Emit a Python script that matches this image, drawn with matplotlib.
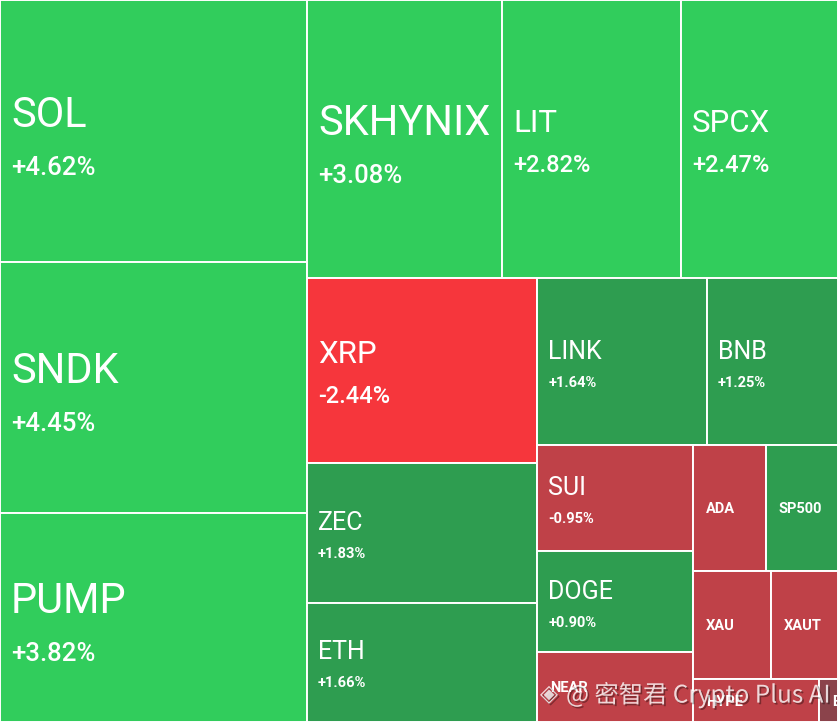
import matplotlib as mpl
mpl.use('Agg')
from matplotlib import pyplot as plt
from matplotlib.patches import Rectangle
import matplotlib.patheffects as pe

# 資料：名稱、漲跌幅、權重(面積)
names = ['SOL', 'SNDK', 'PUMP', 'SKHYNIX', 'LIT', 'SPCX', 'XRP', 'ZEC', 'ETH',
         'LINK', 'BNB', 'SUI', 'DOGE', 'NEAR', 'ADA', 'SP500', 'XAU', 'XAUT',
         'HYPE', 'BCH']
changes = [4.62, 4.45, 3.82, 3.08, 2.82, 2.47, -2.44, 1.83, 1.66,
           1.64, 1.25, -0.95, 0.90, -1.10, -1.00, 0.50, -0.80, -0.80,
           -0.90, -0.20]
weights = [80.4, 77.1, 64.2, 54.2, 49.8, 43.6, 42.6, 32.2, 27.4,
           28.4, 21.9, 16.5, 15.8, 10.9, 9.2, 9.1, 8.4, 7.2,
           5.4, 0.8]
# 每一條帶(strip)包含幾個方塊
strip_sizes = [3, 3, 3, 2, 3, 2, 2, 1, 1]

W, H = 838, 722


def tile_color(c):
    if c >= 2:
        return '#31CD5C'
    if c >= 0:
        return '#2E9D50'
    if c > -0.3:
        return '#8B434B'
    if c > -2:
        return '#BF4148'
    return '#F6363C'


# 依條帶計算方塊位置
rects = []
x0, y0, w, h = 0.0, 0.0, float(W), float(H)
remaining = sum(weights)
i = 0
for n in strip_sizes:
    group = weights[i:i + n]
    frac = sum(group) / remaining
    if w >= h:
        sw = w * frac
        yy = y0
        for g in group:
            gh = h * g / sum(group)
            rects.append((x0, yy, sw, gh))
            yy += gh
        x0 += sw
        w -= sw
    else:
        sh = h * frac
        xx = x0
        for g in group:
            gw = w * g / sum(group)
            rects.append((xx, y0, gw, sh))
            xx += gw
        y0 += sh
        h -= sh
    remaining -= sum(group)
    i += n

fig = plt.figure(figsize=(8.38, 7.22), dpi=100)
ax = fig.add_axes([0, 0, 1, 1])
ax.set_xlim(0, W)
ax.set_ylim(H, 0)
ax.axis('off')

font = 'Roboto'
for name, chg, (rx, ry, rw, rh) in zip(names, changes, rects):
    ax.add_patch(Rectangle((rx, ry), rw, rh, facecolor=tile_color(chg),
                           edgecolor='white', linewidth=1.4))
    area = rw * rh
    cy = ry + rh / 2
    tx = rx + 11
    pct = f'{chg:+.2f}%'
    if area > 52000:
        ax.text(tx, cy - 4, name, color='white', fontsize=30, family=font,
                va='baseline')
        ax.text(tx, cy + 44, pct, color='white', fontsize=18.5, family=font,
                weight='medium', va='baseline')
    elif area > 38000:
        ax.text(tx, cy - 7, name, color='white', fontsize=22.5, family=font,
                va='baseline')
        ax.text(tx, cy + 33, pct, color='white', fontsize=17, family=font,
                weight='medium', va='baseline')
    elif area > 14000:
        ax.text(tx, cy - 3, name, color='white', fontsize=18, family=font,
                va='baseline')
        ax.text(tx, cy + 25, pct, color='white', fontsize=10.5, family=font,
                weight='bold', va='baseline')
    else:
        ax.text(rx + 13, cy + 1, name, color='white', fontsize=10.5,
                family=font, weight='bold', va='center')

# 浮水印
shadow = [pe.SimplePatchShadow(offset=(1.2, -1.2), shadow_rgbFace='black',
                               alpha=0.35), pe.Normal()]
ax.text(549, 694, '◈', color='white', alpha=0.8, fontsize=17,
        family='DejaVu Sans', ha='center', va='center', path_effects=shadow)
ax.text(566, 695, '@ 密智君 Crypto Plus AI', color='white', alpha=0.8,
        fontsize=17.5, family=['Noto Sans CJK SC', 'DejaVu Sans'],
        va='center', path_effects=shadow)

plt.savefig('out.png', dpi=100)
plt.close()
